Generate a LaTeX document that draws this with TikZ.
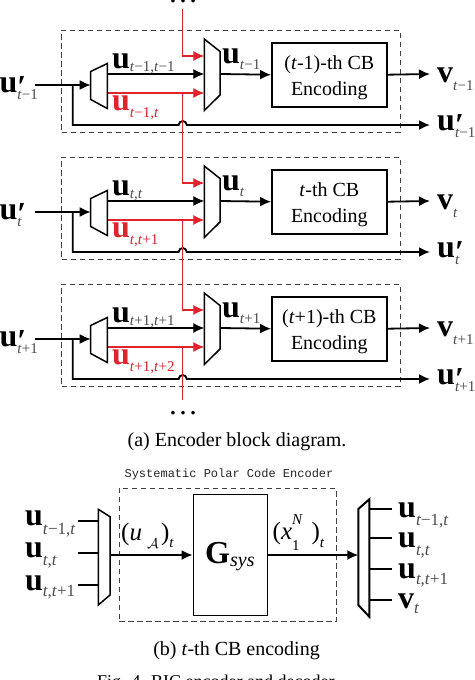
\documentclass[tikz,border=0pt]{standalone}
\usepackage{fontspec}
\setmainfont{Liberation Serif}
\setmonofont{Liberation Mono}
\usetikzlibrary{arrows.meta,calc}
\definecolor{sigred}{RGB}{225,35,45}
\newcommand{\Sz}[1]{\fontsize{#1}{#1}\selectfont}
\newcommand{\ti}{\textit{t}}
\newcommand{\bU}{{\Sz{32}\bfseries u}}
\newcommand{\bV}{{\Sz{32}\bfseries v}}
\newcommand{\pr}{\rlap{\raisebox{-5pt}{\Sz{32}\bfseries ′}}}
\newcommand{\dn}[2]{\raisebox{-#1}{\Sz{15}\color{black!70}#2}}
\newcommand{\dnr}[2]{\raisebox{-#1}{\Sz{15}\color{sigred}#2}}
\newcommand{\dnb}[2]{\raisebox{-#1}{\Sz{17}\color{black!70}#2}}
\tikzset{
  thk/.style={line width=1.8pt},
  sig/.style={line width=1.2pt},
  rsig/.style={line width=1.1pt, draw=sigred, color=sigred},
  arr/.style={-{Latex[length=11pt,width=10pt]}},
  dbox/.style={draw=black!75, line width=1pt, dash pattern=on 5.5pt off 3.5pt, minimum width=338.3pt, minimum height=102pt, inner sep=0},
  encbox/.style={draw, line width=1.8pt, minimum width=114.7pt, minimum height=64pt, inner sep=0},
  mux/.style={draw, line width=1.5pt, fill=white, line join=miter},
  lbl/.style={inner sep=0, anchor=base west},
}
\newcommand{\encblock}[6]{%
  \begin{scope}[shift={(0,#2)}]
  \node[dbox] (#1box) at (230.85,81) {};
  \coordinate (#1in) at (35,85);
  \coordinate (#1br) at (72.7,85);
  \coordinate (#1bc) at (72.7,125);
  \coordinate (#1h) at (178.7,125);
  \coordinate (#1bo) at (430,125);
  \coordinate (#1vo) at (430,74);
  \coordinate (#1dl) at (90.7,85);
  \coordinate (#1du) at (107.3,74);
  \coordinate (#1dr) at (107.3,93);
  \coordinate (#1mt) at (204.3,56);
  \coordinate (#1mm) at (204.3,74);
  \coordinate (#1mb) at (204.3,93);
  \coordinate (#1mo) at (220,74);
  \coordinate (#1rt) at (182.7,56);
  \coordinate (#1rd) at (182.7,93);
  \node[encbox] (#1enc) at (329.35,74.7) {};
  \node[font=\fontsize{20}{26}\selectfont, align=center, inner sep=0] (#1enct) at (329.35,77.3) {#6\\Encoding};
  \draw[thk,arr] (#1in) -- (#1dl);
  \draw[thk,arr] (#1br) -- (#1bc) -- (#1h) arc[start angle=180,end angle=0,radius=4pt] -- (#1bo);
  \draw[sig,arr] (#1du) -- (#1mm);
  \draw[rsig,arr] (#1dr) -- (#1mb);
  \draw[thk,arr] (#1mo) -- (#1enc.west);
  \draw[thk,arr] (#1enc.east) -- (#1vo);
  \draw[mux] (90.7,71.5) -- (107.3,63.5) -- (107.3,108.5) -- (90.7,99.5) -- cycle;
  \draw[mux] (204.3,39) -- (220,51.5) -- (220,95) -- (204.3,110.5) -- cycle;
  \node[lbl] (#1lin) at (-0.5,92) {\bU\pr\dn{7pt}{#3}};
  \node[lbl] (#1lu) at (112,68.5) {\bU\dn{3pt}{#4}};
  \node[lbl,text=sigred] (#1lr) at (112,110.5) {\bU\dnr{7pt}{#5}};
  \node[lbl] (#1lm) at (222,63.5) {\bU\dn{6pt}{#3}};
  \node[lbl] (#1lv) at (437,82) {\bV\dn{8pt}{#3}};
  \node[lbl] (#1lo) at (437,130.5) {\bU\pr\dn{7pt}{#3}};
  \end{scope}}
\begin{document}
\begin{tikzpicture}[x=1pt,y=-1pt]
\fill[white] (0,0) rectangle (474,680);
\useasboundingbox (0,0) rectangle (474,680);
% ---------- (a) ----------
\node[font=\Sz{30}, inner sep=0, anchor=base] (dtop) at (183,2.8) {…};
\coordinate (topred) at (182.7,9);
\encblock{A}{0}{\ti−1}{\ti−1,\ti−1}{\ti−1,\ti}{(\ti-1)-th CB}
\encblock{B}{127}{\ti}{\ti,\ti}{\ti,\ti+1}{\ti-th CB}
\encblock{C}{254}{\ti+1}{\ti+1,\ti+1}{\ti+1,\ti+2}{(\ti+1)-th CB}
\node[font=\Sz{30}, inner sep=0, anchor=base] (dbot) at (183,414) {…};
\coordinate (botred) at (182.7,400);
\draw[rsig,arr] (topred) -- (Art) -- (Amt);
\draw[rsig,arr] (Ard) -- (Brt) -- (Bmt);
\draw[rsig,arr] (Brd) -- (Crt) -- (Cmt);
\draw[rsig] (Crd) -- (botred);
\node[font=\Sz{20}, inner sep=0, anchor=base] (capa) at (237,446.7) {(a) Encoder block diagram.};
% ---------- (b) ----------
\node[dbox, minimum width=217pt, minimum height=133.4pt] (sysbox) at (227.5,555) {};
\node[font=\ttfamily\Sz{12}, inner sep=0, anchor=base, text=black!85] (systitle) at (229,477.5) {Systematic Polar Code Encoder};
\node[draw, line width=1.5pt, minimum width=74.4pt, minimum height=121.4pt, inner sep=0] (G) at (230.5,555) {};
\node[lbl] (Gt) at (205,563) {{\Sz{32}\bfseries G}\raisebox{-3pt}{\Sz{20}\itshape sys}};
\draw[mux] (98.3,509.3) -- (110,516.7) -- (110,595) -- (98.3,605) -- cycle;
\draw[mux, line width=2pt] (358.3,509) -- (369.3,499.3) -- (369.3,616.7) -- (358.3,605) -- cycle;
\coordinate (li1) at (78,520.7);  \coordinate (lm1) at (98.3,520.7);
\coordinate (li2) at (78,552.7);  \coordinate (lm2) at (98.3,552.7);
\coordinate (li3) at (78,585);    \coordinate (lm3) at (98.3,585);
\coordinate (lmo) at (110,555);
\coordinate (rmi) at (358.3,555);
\draw[thk] (li1) -- (lm1);
\draw[thk] (li2) -- (lm2);
\draw[thk] (li3) -- (lm3);
\draw[thk,arr] (lmo) -- (G.west);
\draw[thk,arr] (G.east) -- (rmi);
\foreach \k/\yy in {1/509.3,2/538.3,3/569.3,4/600}{
  \coordinate (rm\k) at (369.3,\yy);
  \coordinate (ro\k) at (391.7,\yy);
  \draw[thk] (rm\k) -- (ro\k);
}
\node[lbl] (bl1) at (25,525) {\bU\dnb{9pt}{\ti−1,\ti}};
\node[lbl] (bl2) at (25,557.3) {\bU\dnb{8pt}{\ti,\ti}};
\node[lbl] (bl3) at (25,590) {\bU\dnb{6pt}{\ti,\ti+1}};
\node[lbl] (br1) at (398,517) {\bU\dnb{8pt}{\ti−1,\ti}};
\node[lbl] (br2) at (398,547) {\bU\dnb{8pt}{\ti,\ti}};
\node[lbl] (br3) at (398,578) {\bU\dnb{6pt}{\ti,\ti+1}};
\node[lbl] (br4) at (398,608) {\bV\dnb{5pt}{\ti}};
\node[lbl] (ua) at (121,540) {{\Sz{25}(\textit{u}}\hspace{5pt}\raisebox{-8pt}{\Sz{15}$\mathcal{A}$}\hspace{2.5pt}{\Sz{25})}\raisebox{-7pt}{\Sz{15}\textit{t}}};
\node[lbl] (xn) at (272.5,539) {{\Sz{25}(\textit{x}}\rlap{\raisebox{15pt}{\Sz{15}\textit{N}}}\raisebox{-11pt}{\Sz{15}1}\hspace{12pt}{\Sz{25})}\raisebox{-8pt}{\Sz{15}\textit{t}}};
\node[font=\Sz{20}, inner sep=0, anchor=base] (capb) at (236.5,655) {(b) \ti-th CB encoding};
\node[lbl, font=\Sz{18}] (capfig) at (97,687) {Fig. 4. BIC encoder and decoder.};
\end{tikzpicture}
\end{document}
